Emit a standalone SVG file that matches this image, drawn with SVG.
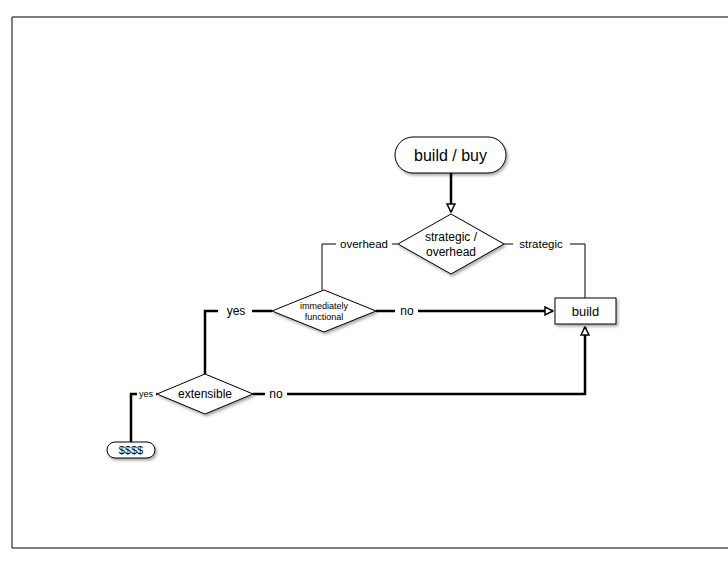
<svg xmlns="http://www.w3.org/2000/svg" width="728" height="563" viewBox="0 0 728 563">
<defs>
<marker id="ah" markerWidth="10" markerHeight="10" refX="9" refY="5" orient="auto" markerUnits="userSpaceOnUse"><path d="M1,1 L9,5 L1,9 Z" fill="#fff" stroke="#000" stroke-width="1.5"/></marker>
<filter id="sh" x="-20%" y="-20%" width="150%" height="150%"><feDropShadow dx="1.5" dy="2" stdDeviation="1.5" flood-opacity="0.35"/></filter>
</defs>
<style>
.n{fill:#fff;stroke:#000;stroke-width:1;filter:url(#sh)}
.t{font-family:"Liberation Sans",Arial,sans-serif;fill:#000;text-anchor:middle}
.thin{fill:none;stroke:#000;stroke-width:1}
.thick{fill:none;stroke:#000;stroke-width:2.5}
</style>
<rect width="728" height="563" fill="#fff"/>
<path d="M740,17 H12 V548 H740" fill="none" stroke="#000" stroke-width="1"/>
<g id="connectors">
<line class="thick" x1="451" y1="173" x2="451" y2="212" marker-end="url(#ah)"/>
<path class="thin" d="M398,244 H392 M336,244 H322 V290"/>
<path class="thin" d="M504,244 H513 M570,244 H585 V298"/>
<path class="thick" d="M376,311 H395"/>
<line class="thick" x1="418" y1="311" x2="553" y2="311" marker-end="url(#ah)"/>
<path class="thick" d="M272,311 H252 M218,311 H205 V374"/>
<path class="thick" d="M253,394 H265"/>
<path class="thick" d="M287,394 H585 V327" marker-end="url(#ah)"/>
<path class="thick" d="M157,394 H156 M137,394 H131 V442"/>
<text class="t" x="364" y="248" font-size="11.5">overhead</text>
<text class="t" x="541" y="248" font-size="11.5">strategic</text>
<text class="t" x="407" y="315" font-size="12">no</text>
<text class="t" x="236" y="315" font-size="12">yes</text>
<text class="t" x="276" y="398" font-size="12">no</text>
<text class="t" x="146" y="397" font-size="9">yes</text>
</g>
<g id="buildbuy"><rect class="n" x="395" y="137" width="111" height="36" rx="18"/><text class="t" x="450.5" y="161" font-size="16">build / buy</text></g>
<g id="strategic"><polygon class="n" points="451,214 504,244 451,274 398,244"/><text class="t" x="451" y="241" font-size="12">strategic /</text><text class="t" x="451" y="256" font-size="12">overhead</text></g>
<g id="immediately"><polygon class="n" points="324,290 376,311 324,332 272,311"/><text class="t" x="324" y="309" font-size="9">immediately</text><text class="t" x="324" y="320" font-size="9">functional</text></g>
<g id="build"><rect class="n" x="555" y="298" width="61" height="26"/><text class="t" x="585.5" y="316" font-size="13">build</text></g>
<g id="extensible"><polygon class="n" points="205,374 253,394 205,414 157,394"/><text class="t" x="205" y="398" font-size="12">extensible</text></g>
<g id="money"><rect class="n" x="107" y="442" width="48" height="16" rx="8"/><text class="t" x="131" y="454" font-size="11" fill="#000">$$$$</text></g>
</svg>
